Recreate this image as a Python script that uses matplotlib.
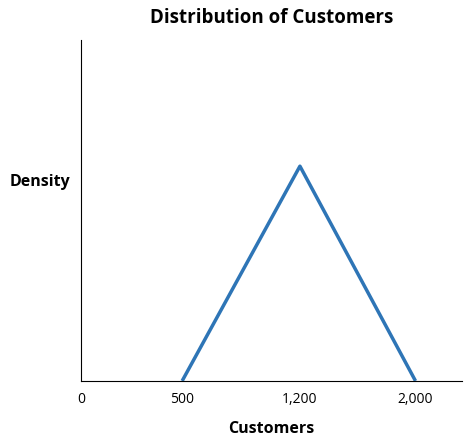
import matplotlib.pyplot as plt

# -------- DATA --------
tick_labels = ["0", "500", "1,200", "2,000"]
tick_pos = [0, 0.91, 1.97, 3.01]
line_x = [0.91, 1.97, 3.01]
line_y = [0, 0.63, 0]

plt.rcParams["font.family"] = ["Open Sans", "DejaVu Sans"]

fig = plt.figure(figsize=(4.74, 4.45), dpi=100)
ax = fig.add_axes([0.171, 0.144, 0.804, 0.766])

ax.plot(line_x, line_y, color="#2E75B6", linewidth=2.5, solid_capstyle="butt")

ax.set_xlim(0, 3.43)
ax.set_ylim(0, 1)
ax.set_xticks(tick_pos)
ax.set_xticklabels(tick_labels, fontsize=10)
ax.set_yticks([])
ax.tick_params(axis="x", length=0, pad=8)
ax.spines["top"].set_visible(False)
ax.spines["right"].set_visible(False)
ax.spines["left"].set_color("black")
ax.spines["bottom"].set_color("black")

ax.set_title("Distribution of Customers", fontsize=13.5, fontweight="bold", pad=12)
ax.set_xlabel("Customers", fontsize=11.5, fontweight="bold", labelpad=10)
fig.text(0.085, 0.59, "Density", fontsize=11.5, fontweight="bold", ha="center", va="center")

fig.savefig("out.png", dpi=100)
